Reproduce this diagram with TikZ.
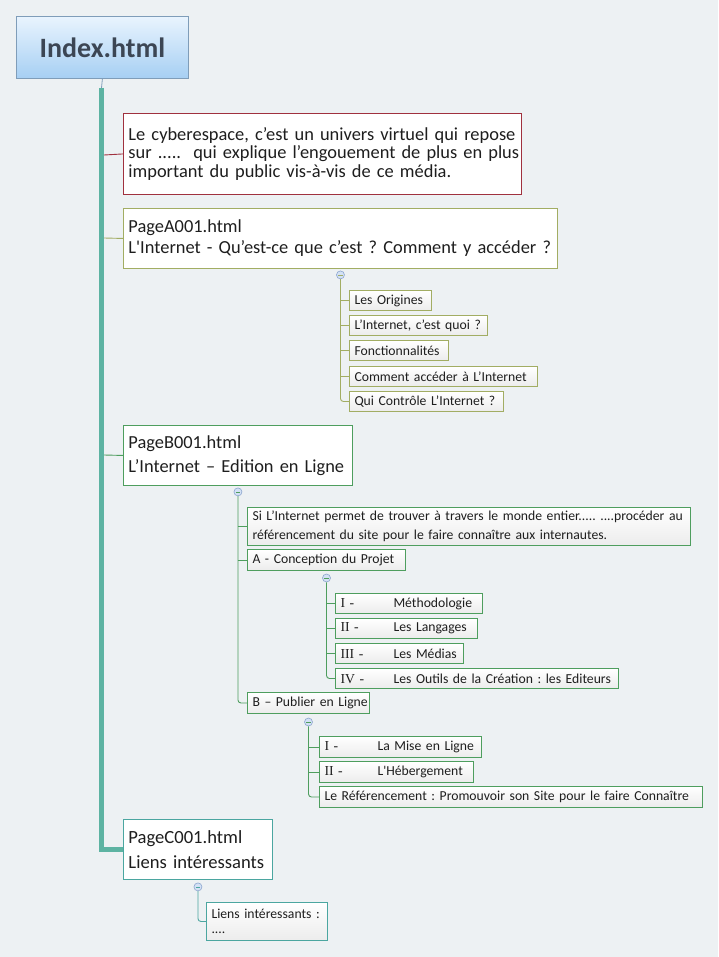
\documentclass[tikz,border=0pt]{standalone}
\usepackage{fontspec}
\setmainfont{Carlito}[Ligatures=TeXOff]
\newfontfamily\numfont{Liberation Serif}
\definecolor{bg}{HTML}{EDF1F3}
\definecolor{txt}{HTML}{1E1E1E}
\definecolor{idxtxt}{HTML}{3C4654}
\definecolor{idxbd}{HTML}{7F9DB9}
\definecolor{idxtop}{HTML}{E9F4FE}
\definecolor{idxbot}{HTML}{A6CFF3}
\definecolor{bar}{HTML}{5DB3A2}
\definecolor{cyb}{HTML}{A0313E}
\definecolor{olv}{HTML}{A2AD63}
\definecolor{grn}{HTML}{4E9E5E}
\definecolor{tea}{HTML}{4BA6A0}
\definecolor{cbd}{HTML}{8CA6CE}
\definecolor{cfi}{HTML}{D3E1F5}
\definecolor{cbot}{HTML}{ECECEC}
\tikzset{
  mainbox/.style={draw, fill=white, line width=0.9, anchor=north west, inner xsep=5, inner ysep=0, align=left, text=txt, text width=#1-10},
  subbox/.style={draw, top color=white, bottom color=cbot, line width=1, anchor=north west, inner xsep=5, inner ysep=0, align=left, text=txt, font=\fontsize{13.7}{18}\selectfont, minimum height=20, text width=#1-10},
  collapse/.style={circle, draw=cbd, fill=cfi, minimum size=8, inner sep=0, line width=0.6},
  conn/.style={line width=0.9, rounded corners=3},
}
\newcommand{\numtab}[2]{\mbox{\makebox[53pt][l]{\numfont\fontsize{13.7}{18}\selectfont #1}#2}}
\begin{document}
\frenchspacing
\begin{tikzpicture}[x=1pt,y=-1pt]
\useasboundingbox[fill=bg] (0,0) rectangle (718,957);

% root
\node[draw=idxbd, top color=idxtop, bottom color=idxbot, line width=0.8, anchor=north west,
      minimum width=172, minimum height=62, inner sep=0, text=idxtxt,
      font=\bfseries\fontsize{28}{30}\selectfont] (idx) at (16,16) {Index.html};

% main boxes
\node[mainbox=398, draw=cyb, minimum height=81, font=\fontsize{18.4}{18.5}\selectfont] (cy) at (123,113)
  {\mbox{Le cyberespace, c’est un univers virtuel qui repose}\\\mbox{sur .....\ \ qui explique l’engouement de plus en plus}\\\mbox{important du public vis-à-vis de ce média.}};
\node[mainbox=434, draw=olv, minimum height=60, font=\fontsize{18.4}{21}\selectfont] (pa) at (123,208)
  {PageA001.html\\\mbox{L'Internet - Qu’est-ce que c’est ? Comment y accéder ?}};
\node[mainbox=229, draw=grn, minimum height=60, font=\fontsize{18.4}{24}\selectfont] (pb) at (123,425)
  {PageB001.html\\\mbox{L’Internet – Edition en Ligne}};
\node[mainbox=149, draw=tea, minimum height=60, font=\fontsize{18.6}{25}\selectfont] (pc) at (123,819)
  {PageC001.html\\\mbox{Liens intéressants}};

% trunk
\coordinate (bartop) at (101.5,88);
\draw[line width=0.8, idxbd] (idx.south) -- (bartop);
\draw[bar, line width=4.5] (bartop) |- (pc.west);
\draw[cyb, line width=0.9] (104,155) -- (cy.west);
\draw[olv, line width=0.9] (104,238) -- (pa.west);
\draw[grn, line width=0.9] (104,455) -- (pb.west);

% PageA children
\node[subbox=82, draw=olv] (a1) at (349,290) {\mbox{Les Origines}};
\node[subbox=138, draw=olv] (a2) at (349,315) {\mbox{L’Internet, c’est quoi ?}};
\node[subbox=99, draw=olv] (a3) at (349,340) {\mbox{Fonctionnalités}};
\node[subbox=188, draw=olv] (a4) at (349,366) {\mbox{Comment accéder à L’Internet}};
\node[subbox=154, draw=olv] (a5) at (349,391) {\mbox{Qui Contrôle L’Internet ?}};
\node[collapse] (ca) at ([yshift=-6]pa.south) {};
\draw[olv, line width=0.6] ([xshift=-2.2]ca.center) -- ([xshift=2.2]ca.center);
\draw[olv, conn] (ca.south) |- (a5.west);
\foreach \n in {a1,a2,a3,a4} \draw[olv, line width=0.9] (ca.south |- \n.west) -- (\n.west);

% PageB children
\node[subbox=443, draw=grn, minimum height=38, font=\fontsize{13.7}{18.5}\selectfont] (b1) at (247,507)
  {\mbox{Si L’Internet permet de trouver à travers le monde entier..... ....procéder au}\\\mbox{référencement du site pour le faire connaître aux internautes.}};
\node[subbox=158, draw=grn, minimum height=21] (bA) at (247,549) {\mbox{A - Conception du Projet}};
\node[subbox=122, draw=grn, minimum height=21] (bB) at (247,692) {\mbox{B – Publier en Ligne}};
\node[collapse] (cb) at ([yshift=-6]pb.south) {};
\draw[grn, line width=0.6] ([xshift=-2.2]cb.center) -- ([xshift=2.2]cb.center);
\draw[grn, conn] (cb.south) |- (bB.west);
\foreach \n in {b1,bA} \draw[grn, line width=0.9] (cb.south |- \n.west) -- (\n.west);

% A children
\node[subbox=147, draw=grn] (A1) at (335,593) {\numtab{I -}{Méthodologie}};
\node[subbox=142, draw=grn] (A2) at (335,618) {\numtab{II -}{Les Langages}};
\node[subbox=128, draw=grn] (A3) at (335,643) {\numtab{III -}{Les Médias}};
\node[subbox=283, draw=grn] (A4) at (335,668) {\numtab{IV -}{Les Outils de la Création : les Editeurs}};
\node[collapse] (cA) at ([yshift=-7]bA.south) {};
\draw[grn, line width=0.6] ([xshift=-2.2]cA.center) -- ([xshift=2.2]cA.center);
\draw[grn, conn] (cA.south) |- (A4.west);
\foreach \n in {A1,A2,A3} \draw[grn, line width=0.9] (cA.south |- \n.west) -- (\n.west);

% B children
\node[subbox=162, draw=grn, minimum height=21] (B1) at (319,736) {\numtab{I -}{La Mise en Ligne}};
\node[subbox=154, draw=grn, minimum height=21] (B2) at (319,761) {\numtab{II -}{L'Hébergement}};
\node[subbox=383, draw=grn, minimum height=21] (B3) at (319,786) {\mbox{Le Référencement : Promouvoir son Site pour le faire Connaître}};
\node[collapse] (cB) at ([yshift=-8]bB.south) {};
\draw[grn, line width=0.6] ([xshift=-2.2]cB.center) -- ([xshift=2.2]cB.center);
\draw[grn, conn] (cB.south) |- (B3.west);
\foreach \n in {B1,B2} \draw[grn, line width=0.9] (cB.south |- \n.west) -- (\n.west);

% PageC children
\node[subbox=121, draw=tea, minimum height=38, font=\fontsize{13.7}{15.5}\selectfont] (c1) at (206,902)
  {\mbox{Liens intéressants :}\\....};
\node[collapse] (cc) at ([yshift=-7]pc.south) {};
\draw[tea, line width=0.6] ([xshift=-2.2]cc.center) -- ([xshift=2.2]cc.center);
\draw[tea, conn] (cc.south) |- (c1.west);
\end{tikzpicture}
\end{document}
